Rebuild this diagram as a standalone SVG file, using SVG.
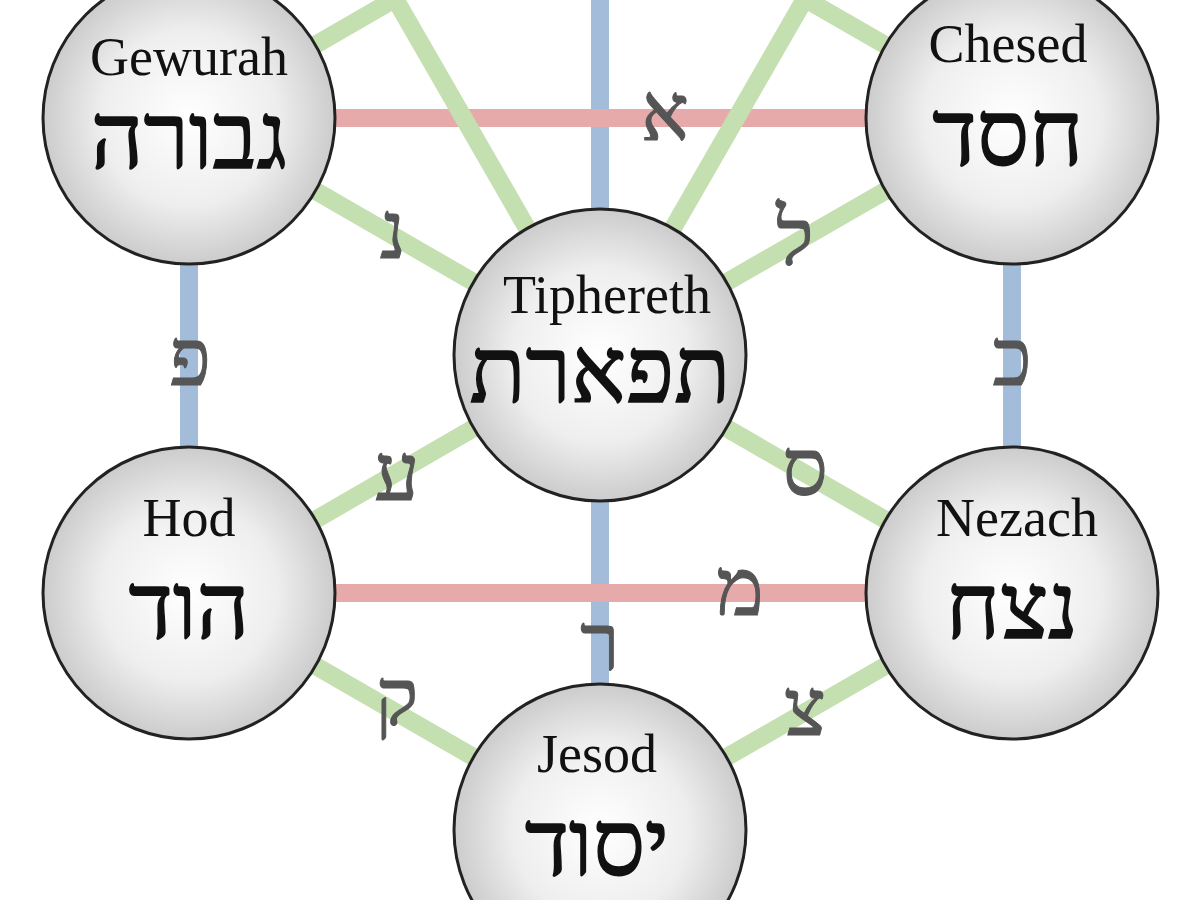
<svg xmlns="http://www.w3.org/2000/svg" width="1200" height="900" viewBox="0 0 1200 900">
<defs>
<radialGradient id="g" cx="0.5" cy="0.5" r="0.5">
<stop offset="0" stop-color="#ffffff"/><stop offset="0.6" stop-color="#eeeeee"/><stop offset="1" stop-color="#cccccc"/>
</radialGradient>
<style>
.b{stroke:#a3bcd9;stroke-width:18;fill:none}
.r{stroke:#e6aaaa;stroke-width:18;fill:none}
.gr{stroke:#c4dfb0;stroke-width:18;fill:none}
circle{fill:url(#g);stroke:#222;stroke-width:3}
.en{font-family:"Liberation Serif",serif;font-size:54px;text-anchor:middle;fill:#111}
.he{font-family:"Liberation Serif","DejaVu Sans",serif;font-size:92px;text-anchor:middle;fill:#111;stroke:#111;stroke-width:1.5}
.l{font-family:"Liberation Serif","DejaVu Sans",serif;font-size:80px;text-anchor:middle;fill:#555;stroke:#555;stroke-width:1}
</style>
</defs>
<g id="connectors">
<line class="b" x1="600" y1="0" x2="600" y2="355"/>
<line class="b" x1="600" y1="355" x2="600" y2="830"/>
<line class="b" x1="189" y1="118" x2="189" y2="593"/>
<line class="b" x1="1012" y1="118" x2="1012" y2="593"/>
<line class="r" x1="189" y1="118" x2="1012" y2="118"/>
<line class="r" x1="189" y1="593" x2="1012" y2="593"/>
<line class="gr" x1="189" y1="118" x2="600" y2="355"/>
<line class="gr" x1="1012" y1="118" x2="600" y2="355"/>
<line class="gr" x1="189" y1="593" x2="600" y2="355"/>
<line class="gr" x1="1012" y1="593" x2="600" y2="355"/>
<line class="gr" x1="189" y1="593" x2="600" y2="830"/>
<line class="gr" x1="1012" y1="593" x2="600" y2="830"/>
<line class="gr" x1="189" y1="118" x2="400" y2="-4"/>
<line class="gr" x1="390" y1="-10" x2="600" y2="355"/>
<line class="gr" x1="1012" y1="118" x2="800" y2="-4"/>
<line class="gr" x1="810" y1="-10" x2="600" y2="355"/>
</g>
<g id="labels">
<text class="l" x="665" y="140">א</text>
<text class="l" x="393" y="258">נ</text>
<text class="l" x="795" y="265">ל</text>
<text class="l" x="190" y="385">פ</text>
<text class="l" x="1012" y="385">כ</text>
<text class="l" x="397" y="500">ע</text>
<text class="l" x="805" y="495">ס</text>
<text class="l" x="740" y="615">מ</text>
<text class="l" x="600" y="670">ר</text>
<text class="l" x="397" y="725">ק</text>
<text class="l" x="805" y="735">צ</text>
</g>
<g id="gewurah"><circle cx="189" cy="118" r="146"/><text class="en" x="189" y="75">Gewurah</text><text class="he" x="189" y="168">גבורה</text></g>
<g id="chesed"><circle cx="1012" cy="118" r="146"/><text class="en" x="1008" y="62">Chesed</text><text class="he" x="1008" y="165">חסד</text></g>
<g id="tiphereth"><circle cx="600" cy="355" r="146"/><text class="en" x="607" y="313">Tiphereth</text><text class="he" x="600" y="402">תפארת</text></g>
<g id="hod"><circle cx="189" cy="593" r="146"/><text class="en" x="189" y="536">Hod</text><text class="he" x="189" y="638">הוד</text></g>
<g id="nezach"><circle cx="1012" cy="593" r="146"/><text class="en" x="1017" y="536">Nezach</text><text class="he" x="1012" y="638">נצח</text></g>
<g id="jesod"><circle cx="600" cy="830" r="146"/><text class="en" x="597" y="772">Jesod</text><text class="he" x="597" y="875">יסוד</text></g>
</svg>
